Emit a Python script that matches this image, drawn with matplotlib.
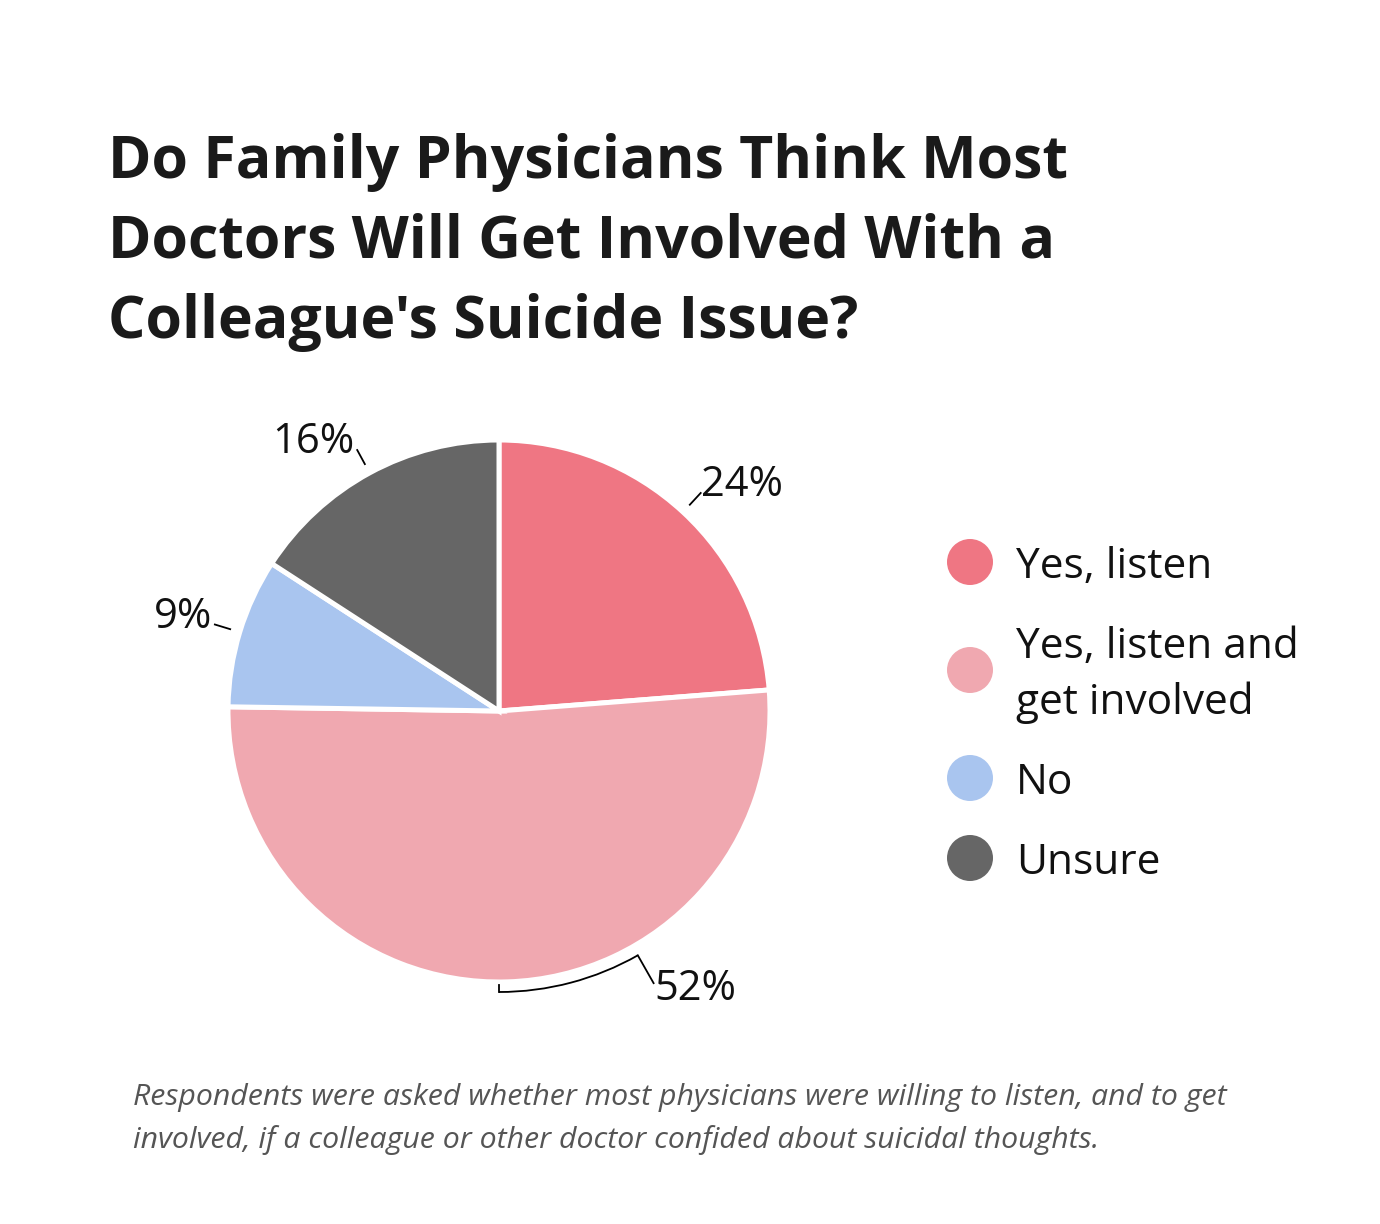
import numpy as np
import matplotlib
matplotlib.use("Agg")
import matplotlib.pyplot as plt
from matplotlib.patches import Arc, Circle

# data
categories = ["Yes, listen", "Yes, listen and\nget involved", "No", "Unsure"]
values = [24, 52, 9, 16]
pct_labels = ["24%", "52%", "9%", "16%"]
colors = ["#EF7683", "#F0A8B0", "#A9C5EF", "#666666"]

title = "Do Family Physicians Think Most\nDoctors Will Get Involved With a\nColleague's Suicide Issue?"
note = ("Respondents were asked whether most physicians were willing to listen, and to get\n"
        "involved, if a colleague or other doctor confided about suicidal thoughts.")

FONT = "Open Sans"

W, H = 1380, 1224
fig = plt.figure(figsize=(W / 100, H / 100), dpi=100)
ax = fig.add_axes([0, 0, 1, 1])

cx, cy, R = 499, H - 711, 271

wedges, _ = ax.pie(values, colors=colors, startangle=90, counterclock=False,
                   center=(cx, cy), radius=R,
                   wedgeprops=dict(edgecolor="white", linewidth=3.6))
ax.set_xlim(0, W)
ax.set_ylim(0, H)
ax.set_aspect("equal")
ax.axis("off")

def pt(r, ang):
    a = np.deg2rad(ang)
    return cx + r * np.cos(a), cy + r * np.sin(a)

pct_font = dict(family=FONT, fontsize=30, color="#111111")
leg_font = dict(family=FONT, fontsize=30.5, color="#111111")

# leader lines and labels
for w, lab in zip(wedges, pct_labels):
    mid = (w.theta1 + w.theta2) / 2
    if lab == "52%":
        # bracket arc along the rim, then out to the side
        end = -60.4
        ax.add_patch(Arc((cx, cy), 2 * 281, 2 * 281, theta1=-90, theta2=end,
                         color="black", lw=1.3))
        x0, y0 = pt(274, -90)
        x1, y1 = pt(281, -90)
        ax.plot([x0, x1], [y0, y1], color="black", lw=1.3)
        x0, y0 = pt(281, end)
        x1, y1 = pt(313, end)
        ax.plot([x0, x1], [y0, y1], color="black", lw=1.3)
        ax.text(x1 + 1, y1 - 17, lab, ha="left", va="baseline", **pct_font)
        continue
    x0, y0 = pt(281, mid)
    x1, y1 = pt(297, mid)
    ax.plot([x0, x1], [y0, y1], color="black", lw=1.3)
    ha = "left" if np.cos(np.deg2rad(mid)) > 0 else "right"
    dx = 0 if ha == "left" else -3
    ax.text(x1 + dx, y1 - 3, lab, ha=ha, va="baseline", **pct_font)

# legend
leg_x, leg_y = 970, H - 562
pitch, inner = 80, 56
y = leg_y
for cat, col in zip(categories, colors):
    n = cat.count("\n") + 1
    yc = y - (n - 1) * inner / 2
    ax.add_patch(Circle((leg_x, yc), 23, color=col, lw=0))
    for i, line in enumerate(cat.split("\n")):
        ax.text(1016, y - i * inner, line, ha="left", va="center_baseline", **leg_font)
    y -= (n - 1) * inner + pitch

# title
for i, line in enumerate(title.split("\n")):
    fig.text(108 / W, 1 - (178 + i * 80) / H, line, ha="left", va="baseline",
             family=FONT, weight="bold", fontsize=42.5, color="#1a1a1a")

# footnote
for i, line in enumerate(note.split("\n")):
    fig.text(133 / W, 1 - (1105 + i * 43) / H, line, ha="left", va="baseline",
             family=FONT, style="italic", fontsize=21.8, color="#555555")

fig.savefig("out.png", dpi=100, facecolor="white")
